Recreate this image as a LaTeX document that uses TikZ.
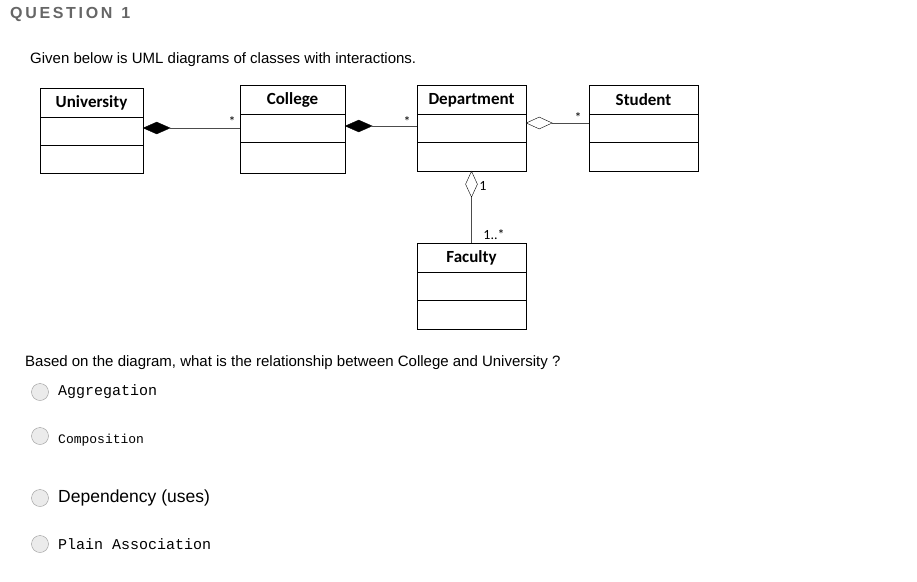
\documentclass[tikz,border=0pt]{standalone}
\usepackage{fontspec}
\setmainfont{Liberation Sans}
\newfontfamily\carlitofont{Carlito}
\newfontfamily\monofont{Liberation Mono}
\usetikzlibrary{shapes.geometric}
\begin{document}
\begin{tikzpicture}[x=1pt,y=-1pt,
  cls/.style={draw=black,line width=0.8pt},
  lbl/.style={font=\carlitofont\bfseries\fontsize{17}{19}\selectfont},
  mult/.style={font=\carlitofont\fontsize{14}{16}\selectfont},
  fdia/.style={diamond,draw=black,fill=black,minimum width=27pt,minimum height=12pt,inner sep=0pt},
  hdia/.style={diamond,draw=black,fill=white,minimum width=26pt,minimum height=12pt,inner sep=0pt},
  conn/.style={draw=black!70,line width=0.5pt},
  radio/.style={circle,draw=black!40,fill=black!8,minimum size=17pt,inner sep=0pt},
  opt/.style={anchor=west,inner sep=0pt}]
\useasboundingbox (0,0) rectangle (917,581);
\fill[white] (0,0) rectangle (917,581);
\node[anchor=west,inner sep=0pt,text=black!60,font=\bfseries\fontsize{16}{18}\selectfont] (q) at (10,14) {Q\,U\,E\,S\,T\,I\,O\,N\ \ 1};
\node[anchor=west,inner sep=0pt,font=\fontsize{15}{18}\selectfont] (g) at (30,60) {Given below is UML diagrams of classes with interactions.};
\newcommand\umlclass[6]{%
 \draw[cls] (#2,#3) rectangle (#4,#5);
 \draw[cls] (#2,{#3+29}) -- (#4,{#3+29});
 \draw[cls] (#2,{#3+57}) -- (#4,{#3+57});
 \node[lbl] (#1) at ({(#2+#4)/2},{#3+15}) {#6};
 \coordinate (#1N) at ({(#2+#4)/2},#3);}
\umlclass{uni}{40}{88}{143}{173}{University}
\umlclass{col}{240}{85}{345}{173}{College}
\umlclass{dep}{417}{85}{526}{171}{Department}
\umlclass{stu}{589}{85}{698}{171}{Student}
\umlclass{fac}{417}{243}{526}{329}{Faculty}
\node[fdia,anchor=west] (d1) at (143,128) {};
\coordinate (c1) at (240,128);
\draw[conn] (d1.east) -- (c1);
\node[fdia,anchor=west] (d2) at (345,126) {};
\coordinate (c2) at (417,126);
\draw[conn] (d2.east) -- (c2);
\node[hdia,anchor=west] (d3) at (526,123) {};
\coordinate (c3) at (589,123);
\draw[conn] (d3.east) -- (c3);
\node[diamond,draw=black,fill=white,minimum width=12pt,minimum height=26pt,inner sep=0pt,anchor=north] (d4) at (471.5,171) {};
\draw[conn] (d4.south) -- (facN);
\node[mult] (m1) at (232,122) {*};
\node[mult] (m2) at (407,122) {*};
\node[mult] (m3) at (578,118) {*};
\node[mult] (m4) at (483,186) {1};
\node[mult] (m5) at (494,235) {1..*};
\node[anchor=west,inner sep=0pt,font=\fontsize{15}{18}\selectfont] (b) at (25,363) {Based on the diagram, what is the relationship between College and University ?};
\node[radio] (r1) at (40,392) {};
\node[opt,font=\monofont\fontsize{15}{18}\selectfont] (o1) at (58,392) {Aggregation};
\node[radio] (r2) at (40,436) {};
\node[opt,font=\monofont\fontsize{13}{15}\selectfont] (o2) at (58,440) {Composition};
\node[radio] (r3) at (40,498) {};
\node[opt,font=\fontsize{17.5}{20}\selectfont] (o3) at (58,498) {Dependency (uses)};
\node[radio] (r4) at (40,544) {};
\node[opt,font=\monofont\fontsize{15}{18}\selectfont] (o4) at (58,544) {Plain Association};
\end{tikzpicture}
\end{document}
